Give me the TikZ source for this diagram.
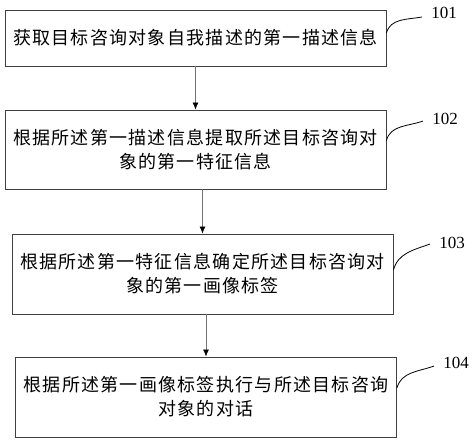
\documentclass[tikz,border=0pt]{standalone}
\usepackage{fontspec}
\setmainfont{Liberation Serif}
\newfontfamily\cjk[LetterSpace=7]{Noto Sans CJK SC}
\usetikzlibrary{arrows,arrows.meta,positioning,calc}
\tikzset{
  stepbox/.style={draw=black!75, line width=0.9pt, minimum width=381pt, align=center,
    inner sep=0pt, font=\cjk\fontsize{18}{24}\selectfont},
  stepnum/.style={inner sep=1pt, font=\fontsize{17}{20}\selectfont},
  hook/.style={draw, line width=0.8pt},
  flow/.style={draw, black!55, line width=0.7pt, -{Latex[black, length=7pt, width=6pt]}},
}
\begin{document}
\begin{tikzpicture}[x=1pt,y=-1pt]
        \useasboundingbox (0,0) rectangle (474,443);
        %nodes
        \node[stepbox, minimum height=56pt] (b1) at (195.5, 38) {获取目标咨询对象自我描述的第一描述信息};
        \node[stepbox, minimum height=79pt] (b2) at (195.5, 149.5) {根据所述第一描述信息提取所述目标咨询对\\象的第一特征信息};
        \node[stepbox, minimum height=80pt] (b3) at (202.5, 274) {根据所述第一特征信息确定所述目标咨询对\\象的第一画像标签};
        \node[stepbox, minimum height=80pt] (b4) at (206, 397) {根据所述第一画像标签执行与所述目标咨询\\对象的对话};
        \node[stepnum] (n1) at (444, 13) {101};
        \node[stepnum] (n2) at (445, 119) {102};
        \node[stepnum] (n3) at (452, 243) {103};
        \node[stepnum] (n4) at (456, 363) {104};
        %edges
        \path [flow] (b1.south -| b2) to (b2.north);
        \path [flow] (b2.south -| b3) to (b3.north);
        \path [flow] (b3.south -| b4) to (b4.north);
        %labels
        \path [hook] ([yshift=5pt]b1.east) to[out=75, in=190] ([xshift=-8pt, yshift=-4pt]n1.west);
        \path [hook] ([yshift=9pt]b2.east) to[out=75, in=200] ([xshift=-8pt, yshift=-2pt]n2.west);
        \path [hook] ([yshift=4pt]b3.east) to[out=75, in=200] ([xshift=-8pt, yshift=-1pt]n3.west);
        \path [hook] ([yshift=9pt]b4.east) to[out=75, in=200] ([xshift=-8pt, yshift=-3pt]n4.west);
      \end{tikzpicture}
\end{document}
